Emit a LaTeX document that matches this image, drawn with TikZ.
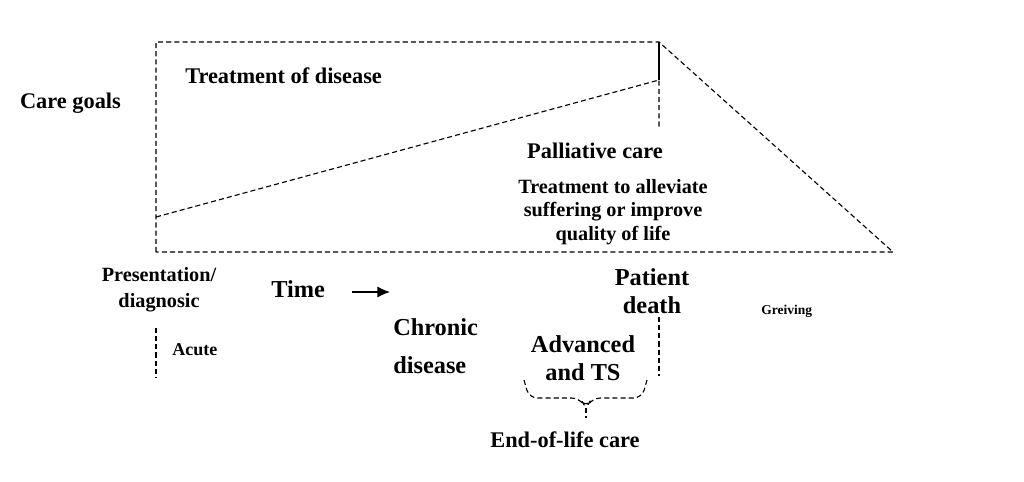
\documentclass[tikz,border=0pt]{standalone}
\usepackage{fontspec}
\setmainfont{Liberation Serif}
\usetikzlibrary{positioning, arrows.meta}

\tikzset{
	goalline/.style={line width=0.8pt, dash pattern=on 3.6pt off 2.2pt},
	midtext/.style={font=\bfseries\fontsize{15.9}{19}\selectfont, inner sep=0pt, anchor=base, align=center},
	bigtext/.style={font=\bfseries\fontsize{17.3}{19.9}\selectfont, inner sep=0pt, anchor=base, align=center},
	smalltext/.style={font=\bfseries\fontsize{14.4}{16.7}\selectfont, inner sep=0pt, anchor=base, align=center},
}

\begin{document}
\begin{tikzpicture}[x=0.025cm, y=-0.025cm]
				\useasboundingbox (0,0) rectangle (1024,481);
				
				% Frame of the care goals
				\coordinate (topleft) at (156,42);
				\coordinate (topright) at (659,42);
				\coordinate (botleft) at (156,252);
				\coordinate (botright) at (893,252);
				\coordinate (switch) at (659,80);
				\coordinate (start) at (156,217);
				\coordinate (palltop) at (659,128);
				\draw[goalline] (botleft) -- (topleft) -- (topright) -- (botright) -- cycle;
				\draw[line width=0.8pt] (topright) -- (switch);
				\draw[goalline] (start) -- (switch) -- (palltop);
				
				% Labels inside the frame (base = last line)
				\node[midtext, anchor=base west] (treat) at (185,83) {Treatment of disease};
				\node[midtext] (pall) at (595,158) {Palliative care};
				\node[smalltext] (alle) at (613,240) {Treatment to alleviate\\suffering or improve\\quality of life};
				\node[midtext] (goals) at (70.5,108) {Care goals};
				
				% Time axis
				\node[smalltext, font=\bfseries\fontsize{14.4}{17.8}\selectfont] (present) at (159,307) {Presentation/\\diagnosic};
				\node[bigtext, anchor=base west] (time) at (271,297) {Time};
				\coordinate (arrstart) at (352,292);
				\coordinate (arrend) at (390,292);
				\draw[-{Latex[length=9pt, width=8pt]}, line width=1pt] (arrstart) -- (arrend);
				
				% Phases
				\coordinate (acutetop) at (156,328);
				\coordinate (acutebot) at (156,377);
				\draw[goalline] (acutetop) -- (acutebot);
				\node[font=\bfseries\fontsize{12.8}{15}\selectfont, inner sep=0pt, anchor=base west] (acute) at (172,355) {Acute};
				\node[bigtext, anchor=base west] (chron) at (393,335) {Chronic};
				\node[bigtext, anchor=base west] (dis) at (393,373) {disease};
				\node[bigtext] (death) at (652,313) {Patient\\death};
				\node[font=\bfseries\fontsize{9.6}{12}\selectfont, inner sep=0pt, anchor=base west] (grief) at (761,314) {Greiving};
				\coordinate (deathtop) at (659,317);
				\coordinate (deathbot) at (659,376);
				\draw[goalline] (deathtop) -- (deathbot);
				\node[bigtext] (adv) at (583,380) {Advanced\\and TS};
				
				% Brace of the end of life
				\coordinate (tip) at (586,408);
				\coordinate (stem) at (586,418);
				\draw[goalline, rounded corners=6] (524,380) -- (529,398) -- (580,398) -- (tip) -- (592,398) -- (642,398) -- (647,380);
				\draw[goalline] (tip) -- (stem);
				\node[midtext] (eol) at (565,447) {End-of-life care};
				
\end{tikzpicture}
\end{document}
